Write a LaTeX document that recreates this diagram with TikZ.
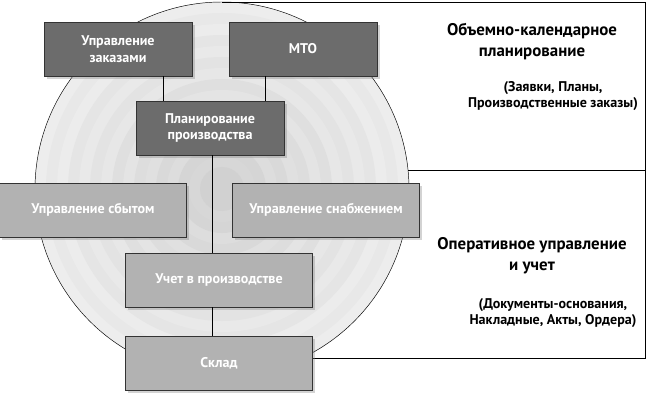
\documentclass[tikz,border=0pt]{standalone}
\usepackage{fontspec}
\setmainfont{PT Sans}
\usetikzlibrary{shadows}
\begin{document}
\begin{tikzpicture}[x=0.03cm,y=-0.03cm]
  %stili
  \tikzset{
    darkbox/.style={draw=gray!40!black, fill=gray!85!black, text=white, font=\bfseries\large,
      minimum width=4.44cm, minimum height=1.62cm, inner sep=0pt, align=center, drop shadow={opacity=0.35}},
    lightbox/.style={darkbox, fill=gray!60, minimum width=5.61cm},
    link/.style={-, black, thick},
    frame/.style={-, black, line width=0.8pt},
    title/.style={font=\bfseries\Large, align=center},
    note/.style={font=\bfseries\large, align=center}
  }
  \useasboundingbox (0,0) rectangle (650,400);

  % cerchio a strati
  \foreach \r/\c in {187/14,176/18,165/15,154/20,143/17,132/22,121/19,110/25,99/21,88/27,77/24,66/30,55/27,44/33,33/31,22/36}
    \fill[gray!\c] (222,189) circle(\r);
  \draw[black, thin] (222,189) circle(187);

  % cornice destra
  \coordinate (ctop) at (222,2);
  \coordinate (tr) at (645,2);
  \coordinate (br) at (645,358);
  \coordinate (mid) at (408,170);
  \coordinate (midr) at (645,170);
  \draw[frame] (ctop) -- (tr) -- (br) -- (313,358);
  \draw[frame] (mid) -- (midr);

  % blocchi
  \node[darkbox] (orders) at (118,49) {Управление\\заказами};
  \node[darkbox] (mto) at (303,49) {МТО};
  \node[darkbox] (plan) at (210,128) {Планирование\\производства};
  \node[lightbox] (sales) at (93,210) {Управление сбытом};
  \node[lightbox] (supply) at (326,210) {Управление снабжением};
  \node[lightbox] (acc) at (219,280) {Учет в производстве};
  \node[lightbox] (stock) at (219,363) {Склад};

  % collegamenti
  \draw[link] (orders.south -| 163,0) -- (plan.north -| 163,0);
  \draw[link] (mto.south -| 265,0) -- (plan.north -| 265,0);
  \draw[link] (plan.south -| 212,0) -- (acc.north -| 212,0);
  \draw[link] (acc.south -| 212,0) -- (stock.north -| 212,0);

  %etichette
  \node[title] (t1) at (532,42) {Объемно-календарное\\планирование};
  \node[note] (n1) at (553,96) {(Заявки, Планы,\\Производственные заказы)};
  \node[title] (t2) at (532,256) {Оперативное управление\\и учет};
  \node[note] (n2) at (553,313) {(Документы-основания,\\Накладные, Акты, Ордера)};
\end{tikzpicture}
\end{document}
